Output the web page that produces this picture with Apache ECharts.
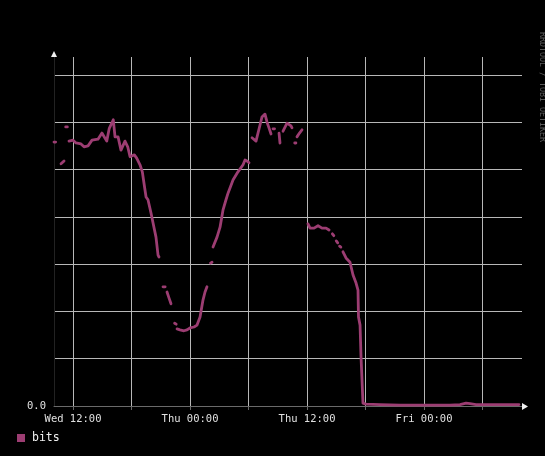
<!DOCTYPE html>
<html>
<head>
<meta charset="utf-8">
<script src="https://cdn.jsdelivr.net/npm/echarts@6/dist/echarts.min.js"></script>
<style>
html,body{margin:0;padding:0;background:#000;}
#c{width:545px;height:456px;}
</style>
</head>
<body>
<div id="c"></div>
<script>
// time in hours since Wed 00:00; value in grid units (unlabelled y axis)
const hours = [
  10.05,10.22,10.4,
  10.77,10.95,11.08,11.18,
  11.25,11.42,11.5,
  11.59,12.0,12.31,12.82,13.13,13.54,13.95,14.56,14.97,15.46,15.72,16.13,16.31,16.62,16.92,17.33,17.61,17.85,18.29,18.53,18.87,19.11,19.28,19.49,19.69,20.0,20.21,20.51,20.72,20.82,21.0,
  21.23,21.45,21.55,
  21.64,21.85,22.05,22.25,
  22.42,22.58,22.62,
  22.67,22.97,23.38,23.69,24.0,24.41,24.72,25.03,25.33,25.54,25.74,25.95,
  26.1,26.26,26.3,
  26.36,26.77,27.08,27.38,27.69,27.90,28.41,28.92,29.44,29.64,29.85,30.05,30.2,
  30.36,30.77,30.97,31.18,31.38,31.69,31.90,32.10,32.31,32.42,
  32.51,32.67,32.9,
  33.13,33.23,33.38,
  33.54,33.74,33.95,34.15,34.36,34.46,34.6,
  34.74,34.86,34.92,
  34.97,35.23,35.49,35.8,
  36.10,36.31,36.72,37.13,37.54,37.95,38.26,38.45,
  38.6,38.75,38.9,
  39.0,39.15,39.25,
  39.34,39.47,39.55,
  39.69,40.0,40.41,40.72,41.03,41.23,41.28,41.44,41.54,41.64,41.74,42.05,43.49,45.54,48.0,50.67,51.69,52.31,52.72,53.33,55.79,57.74
];
const bits = [
  5.58,5.58,null,
  5.12,5.15,5.18,null,
  5.90,5.90,null,
  5.60,5.62,5.56,5.54,5.48,5.50,5.62,5.64,5.77,5.60,5.87,6.05,5.69,5.69,5.41,5.60,5.48,5.27,5.31,5.24,5.10,4.95,4.71,4.42,4.36,4.08,3.87,3.57,3.19,3.15,null,
  2.52,2.52,null,
  2.41,2.28,2.16,null,
  1.75,1.73,null,
  1.63,1.61,1.59,1.61,1.65,1.67,1.71,1.88,2.24,2.41,2.52,null,
  3.02,3.04,null,
  3.36,3.57,3.78,4.14,4.36,4.50,4.78,4.95,5.10,5.20,5.18,5.14,null,
  5.67,5.60,5.64,5.94,6.11,6.17,6.00,5.88,5.75,null,
  5.86,5.86,null,
  5.77,5.56,null,
  5.81,5.84,5.98,5.98,5.92,5.88,null,
  5.56,5.56,null,
  5.69,5.77,5.84,null,
  3.85,3.76,3.76,3.81,3.76,3.76,3.72,null,
  3.64,3.60,null,
  3.49,3.45,null,
  3.38,3.36,null,
  3.26,3.13,3.04,2.77,2.60,2.45,1.88,1.71,1.04,0.55,0.06,0.04,0.03,0.02,0.02,0.02,0.03,0.06,0.05,0.03,0.03,0.03
];
const gridHours = [12,18,24,30,36,42,48,54];
const labelHours = [12,24,36,48];
const labelNames = {12:'Wed 12:00',24:'Thu 00:00',36:'Thu 12:00',48:'Fri 00:00'};
const gridValues = [0,1,2,3,4,5,6,7];
const seriesName = 'bits';

const mono = 'DejaVu Sans Mono';
const chart = echarts.init(document.getElementById('c'), null, {renderer:'canvas'});
chart.setOption({
  backgroundColor:'#000',
  animation:false,
  grid:{left:54,right:23,top:57,bottom:50},
  legend:{
    data:[seriesName], left:17, top:432, padding:0, icon:'rect', itemWidth:8, itemHeight:8,
    textStyle:{color:'#f0f0f0', fontFamily:mono, fontSize:11.5, padding:[0,0,0,2]}
  },
  xAxis:{
    type:'value', min:10.05, max:58.05,
    axisLine:{show:true, lineStyle:{color:'#6a6a6a', width:1}},
    axisTick:{show:true, customValues:gridHours, length:4, lineStyle:{color:'#6a6a6a'}},
    axisLabel:{customValues:labelHours, formatter:v=>labelNames[v]||'', color:'#e0e0e0', fontFamily:mono, fontSize:10.5, margin:8},
    splitLine:{show:true, lineStyle:{color:'#b8b8b8', width:1}}
  },
  yAxis:{
    type:'value', min:0, max:7.378,
    axisLine:{show:true, lineStyle:{color:'#222', width:1}},
    axisTick:{show:false, customValues:gridValues},
    axisLabel:{customValues:[0], formatter:v=>v===0?'0.0':'', color:'#e0e0e0', fontFamily:mono, fontSize:10.5, margin:8},
    splitLine:{show:true, lineStyle:{color:'#b8b8b8', width:1}}
  },
  graphic:[
    {type:'polygon', shape:{points:[[54,51],[51,57],[57,57]]}, style:{fill:'#f0f0f0'}, z:100},
    {type:'polygon', shape:{points:[[522,403],[522,410],[528,406.5]]}, style:{fill:'#f0f0f0'}, z:100},
    {type:'text', x:546, y:32, rotation:-Math.PI/2,
     style:{text:'RRDTOOL / TOBI OETIKER', fill:'#5a5a5a', font:'8.3px "DejaVu Sans Mono"', textAlign:'left', textVerticalAlign:'top'}, z:100}
  ],
  series:[{
    name:seriesName, type:'line', showSymbol:false, connectNulls:false,
    itemStyle:{color:'#9c3d72'},
    lineStyle:{color:'#9c3d72', width:2.8, cap:'round', join:'round'},
    data:hours.map((h,i)=>[h, bits[i]==null?'-':bits[i]])
  }]
});
</script>
</body>
</html>
